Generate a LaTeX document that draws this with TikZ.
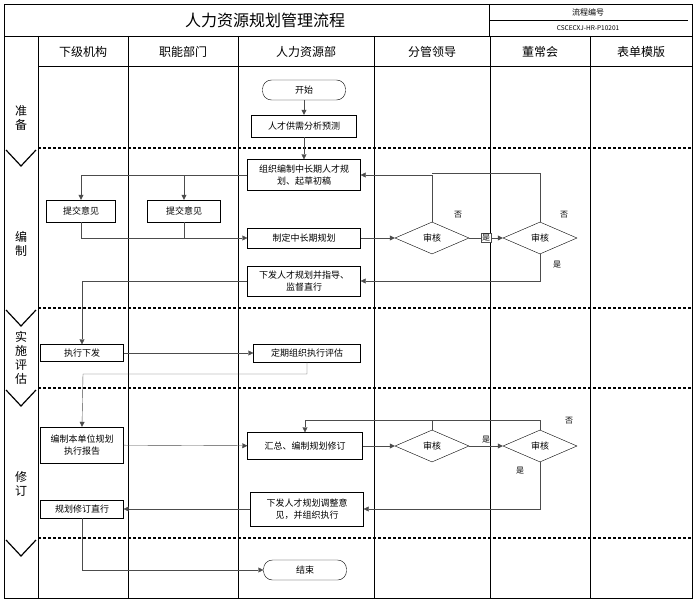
\documentclass[tikz,border=0pt]{standalone}
\usepackage{fontspec}
\setmainfont{Noto Sans CJK SC}
\usetikzlibrary{shapes.geometric,arrows.meta}
\tikzset{
  box/.style={draw,fill=white,inner sep=1pt,align=center,font=\fontsize{9}{12}\selectfont},
  term/.style={draw,fill=white,rounded corners=9pt,minimum width=83pt,minimum height=20pt,font=\fontsize{9}{12}\selectfont},
  check/.style={draw,diamond,aspect=2.3,minimum width=74pt,minimum height=32pt,inner sep=0pt,font=\fontsize{9}{12}\selectfont},
  flow/.style={draw=black!70,-{Triangle[length=5pt,width=5pt]}},
  line/.style={draw=black!70},
  phase/.style={dash pattern=on 3pt off 2pt,line width=1.6pt},
  lane/.style={font=\fontsize{12}{14}\selectfont},
  tag/.style={font=\fontsize{8}{10}\selectfont,inner sep=1pt}
}
\begin{document}
\begin{tikzpicture}[x=1pt,y=-1pt]
\useasboundingbox (0,0) rectangle (696,602);
% frame and lanes
\draw (4,4) rectangle (692,598);
\draw (4,36) -- (692,36) (489,4) -- (489,36) (489,20) -- (688,20);
\draw (38,36) -- (38,598) (38,66) -- (692,66);
\foreach \x in {128,238,374,490,590} \draw (\x,36) -- (\x,598);
\node[font=\fontsize{16}{19}\selectfont] (title) at (265,20) {人力资源规划管理流程};
\node[font=\fontsize{8}{10}\selectfont] (codehead) at (588,12) {流程编号};
\node[font=\fontsize{6.5}{8}\selectfont] (code) at (588,28) {CSCECXJ-HR-P10201};
\foreach \cx/\txt in {83/下级机构,183/职能部门,306/人力资源部,432/分管领导,540/董常会,641/表单模版}
  \node[lane] at (\cx,52) {\txt};
% phases
\foreach \y in {148,308,388,538} {
  \draw[phase] (38,\y) -- (692,\y);
  \draw[line width=1.2pt] (6,\y+2) -- (21,\y+18) -- (36,\y+2);
}
\node[lane,align=center] (prep) at (21,118) {准\\备};
\node[lane,align=center] (plan) at (21,244) {编\\制};
\node[lane,align=center] (eval) at (21,358) {实\\施\\评\\估};
\node[lane,align=center] (rev) at (21,484) {修\\订};

% nodes
\node[term] (start) at (304,90) {开始};
\node[box,minimum width=105pt,minimum height=22pt] (analyze) at (304,126) {人才供需分析预测};
\node[box,minimum width=113pt,minimum height=31pt] (org) at (304,175) {组织编制中长期人才规\\划、起草初稿};
\node[box,minimum width=69pt,minimum height=22pt] (sub1) at (81,211) {提交意见};
\node[box,minimum width=73pt,minimum height=22pt] (sub2) at (184,211) {提交意见};
\node[box,minimum width=113pt,minimum height=20pt] (make) at (304,238) {制定中长期规划};
\node[check] (d1) at (432,238) {审核};
\node[check] (d2) at (540,238) {审核};
\node[box,minimum width=113pt,minimum height=30pt] (issue) at (304,281) {下发人才规划并指导、\\监督直行};
\node[box,minimum width=83pt,minimum height=17pt] (exec) at (82,353) {执行下发};
\node[box,minimum width=107pt,minimum height=18pt] (assess) at (307,353) {定期组织执行评估};
\node[box,minimum width=83pt,minimum height=36pt] (report) at (82,445) {编制本单位规划\\执行报告};
\node[box,minimum width=115pt,minimum height=27pt] (sum) at (305,446) {汇总、编制规划修订};
\node[check] (d3) at (432,446) {审核};
\node[check] (d4) at (540,446) {审核};
\node[box,minimum width=113pt,minimum height=34pt] (adjust) at (307,509) {下发人才规划调整意\\见，并组织执行};
\node[box,minimum width=83pt,minimum height=18pt] (apply) at (82,509) {规划修订直行};
\node[term] (end) at (305,570) {结束};

% connectors
\draw[flow] (start) -- (analyze);
\draw[flow] (analyze) -- (org);
\draw[line] (org.west) -| (184,186);
\draw[flow] (org.west) -| (sub1);
\draw[flow] (184,182) -- (sub2);
\draw[line] (sub1) |- (184,238);
\draw[flow] (sub2) |- (make);
\draw[flow] (make) -- (d1);
\draw[flow] (d1) -- node[tag,draw,fill=white] (yes1) {是} (d2);
\draw[flow] (d1.north) |- (org.east);
\draw[line] (d2.north) |- (432,173);
\draw[flow] (d2.south) |- (issue.east);
\node[tag] (no1) at (458,215) {否};
\node[tag] (no2) at (564,215) {否};
\node[tag] (yes2) at (557,265) {是};
\draw[flow] (issue.west) -| (exec.north);
\draw[flow] (exec) -- (assess);
\draw[flow] (assess.south) |- (83,374) -- (report.north);
\draw[flow] (report) -- (sum);
\draw[flow] (sum) -- (d3);
\draw[flow] (d3) -- node[tag,above=2pt] (yes3) {是} (d4);
\draw[flow] (d4.north) |- (305,420) -- (sum.north);
\draw[line] (d3.north) -- (432,420);
\draw[flow] (d4.south) |- (adjust.east);
\node[tag] (no3) at (569,421) {否};
\node[tag] (yes4) at (520,471) {是};
\draw[flow] (adjust) -- (apply);
\draw[flow] (apply.south) |- (end.west);
\end{tikzpicture}
\end{document}
